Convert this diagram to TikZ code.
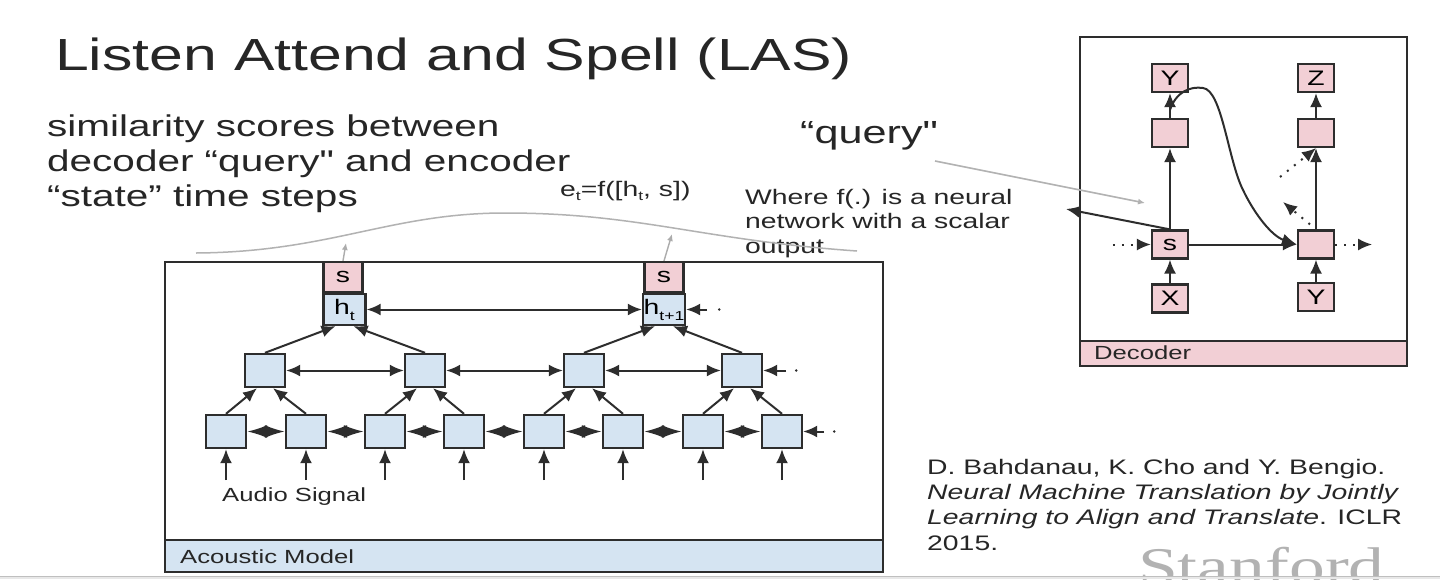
\documentclass[tikz,border=0pt]{standalone}
\usepackage{fontspec}
\setmainfont{Liberation Sans}[FakeStretch=1.35]
\newfontfamily\plain{Liberation Sans}[FakeStretch=1.35]
\newfontfamily\stanf{Liberation Serif}[FakeStretch=1.35]
\usetikzlibrary{arrows.meta,calc}
\definecolor{boxblue}{RGB}{213,228,242}
\definecolor{boxpink}{RGB}{242,207,213}
\definecolor{edge}{RGB}{45,45,45}
\newcommand\fs[1]{\fontsize{#1}{#1}\selectfont}
\newcommand\subA[1]{\raisebox{-6pt}{\fs{13}#1}}
\newcommand\subB[1]{\raisebox{-4pt}{\fs{13}#1}}
\newcommand\sq{{\plain"}}
\begin{document}
\begin{tikzpicture}[x=1pt,y=-1pt,
 bb/.style={draw=edge,line width=2.4pt,fill=boxblue,minimum width=40pt,minimum height=33pt,inner sep=0pt,font=\fs{21}},
 pb/.style={draw=edge,line width=2.2pt,fill=boxpink,minimum width=36pt,minimum height=28pt,inner sep=0pt,font=\fs{21}},
 ar/.style={line width=2pt,draw=edge,-{Latex[length=14pt,width=12pt]}},
 dar/.style={line width=2pt,draw=edge,{Latex[length=14pt,width=12pt]}-{Latex[length=14pt,width=12pt]}},
 dia/.style={line width=2pt,draw=edge,{Latex[length=20pt,width=13pt]}-{Latex[length=20pt,width=13pt]}},
 dots/.style={line width=2pt,draw=edge,dash pattern=on 2pt off 7pt,-{Latex[length=14pt,width=12pt]}},
 garr/.style={line width=1.4pt,draw=gray!65,-{Latex[length=7pt,width=6pt]}},
 txt/.style={anchor=base west,inner sep=0pt,text=black!85},
]
\useasboundingbox (0,0) rectangle (1440,579);
\fill[white] (0,0) rectangle (1440,579);

% ---------- texts ----------
\node[txt,font=\fs{45}] (title) at (55,70) {Listen Attend and Spell (LAS)};
\node[txt,font=\fs{30}] (sub1) at (47,136) {similarity scores between};
\node[txt,font=\fs{30}] (sub2) at (47,171) {decoder “query\sq{} and encoder};
\node[txt,font=\fs{30}] (sub3) at (47,206) {“state” time steps};
\node[txt,font=\fs{21}] (et) at (560,196) {e\subB{t}=f([h\subB{t}, s])};
\node[txt,font=\fs{32}] (q) at (800,143) {“query\sq};
\node[txt,font=\fs{21}] (w1) at (745,204) {Where f(.) is a neural};
\node[txt,font=\fs{21}] (w2) at (745,228.5) {network with a scalar};
\node[txt,font=\fs{21}] (w3) at (745,253) {output};
\node[txt,font=\fs{21}] (r1) at (927,474) {D. Bahdanau, K. Cho and Y. Bengio.};
\node[txt,font=\fs{21}] (r2) at (927,499.3) {\itshape Neural Machine Translation by Jointly};
\node[txt,font=\fs{21}] (r3) at (927,524.6) {{\itshape Learning to Align and Translate}. ICLR};
\node[txt,font=\fs{21}] (r4) at (927,550) {2015.};
\node[txt,font=\stanf\fs{53},text=gray!60] (stan) at (1138,584) {Stanford};

% ---------- attention curve ----------
\draw[gray!60,line width=1.5pt] (196,253) .. controls (330,252) and (390,213) .. (505,213)
  .. controls (640,213) and (700,240) .. (857,251);

% ---------- acoustic model ----------
\fill[boxblue] (165,540) rectangle (883,572);
\draw[edge,line width=2.2pt] (165,540) -- (883,540);
\draw[edge,line width=2.4pt] (165,262) rectangle (883,572);
\node[txt,font=\fs{19}] (am) at (180,563) {Acoustic Model};
\node[txt,font=\fs{19}] (audio) at (222,501) {Audio Signal};

\foreach \x [count=\i] in {226,306,385,464,544,623,703,782}
  \node[bb] (a\i) at (\x,431.5) {};
\foreach \x [count=\i] in {265,425,584,742}
  \node[bb] (b\i) at (\x,370.5) {};
\node[bb,minimum width=42pt,minimum height=31pt] (h1) at (344.5,309.5) {h\subA{t}};
\node[bb,minimum width=42pt,minimum height=31pt] (h2) at (664,309.5) {h\subA{t+1}};
\node[pb,minimum width=39pt,minimum height=30pt] (s1) at (343,277) {s};
\node[pb,minimum width=39pt,minimum height=30pt] (s2) at (664,277) {s};

\foreach \i [evaluate=\i as \j using int(\i+1)] in {1,...,7}
  \draw[dia] (a\i) -- (a\j);
\foreach \i [evaluate=\i as \j using int(\i+1)] in {1,2,3}
  \draw[dar] (b\i) -- (b\j);
\draw[dar] (h1) -- (h2);

\foreach \i in {1,...,8} {
  \coordinate (in\i) at ($(a\i.south)+(0,31)$);
  \draw[ar] (in\i) -- (a\i.south);
}
\foreach \i/\k in {1/1,3/2,5/3,7/4} {
  \draw[ar] (a\i.north) -- ($(b\k.south)+(-8,0)$);
}
\foreach \i/\k in {2/1,4/2,6/3,8/4} {
  \draw[ar] (a\i.north) -- ($(b\k.south)+(8,0)$);
}
\draw[ar] (b1.north) -- ($(h1.south)+(-9,0)$);
\draw[ar] (b2.north) -- ($(h1.south)+(9,0)$);
\draw[ar] (b3.north) -- ($(h2.south)+(-9,0)$);
\draw[ar] (b4.north) -- ($(h2.south)+(9,0)$);

\coordinate (ea) at ($(a8.east)+(21,0)$);
\fill[edge] ($(a8.east)+(31,0)$) circle (1.3);
\draw[ar] (ea) -- (a8.east);
\coordinate (eb) at ($(b4.east)+(23,0)$);
\fill[edge] ($(b4.east)+(33,0)$) circle (1.3);
\draw[ar] (eb) -- (b4.east);
\coordinate (eh) at ($(h2.east)+(21,0)$);
\fill[edge] ($(h2.east)+(33,0)$) circle (1.3);
\draw[ar] (eh) -- (h2.east);

\coordinate (g1) at (346,243);
\coordinate (g2) at (672,234);
\draw[garr] (s1.north) -- (g1);
\draw[garr] (s2.north) -- (g2);

% ---------- decoder ----------
\fill[boxpink] (1080,341) rectangle (1407,366);
\draw[edge,line width=2.2pt] (1080,341) -- (1407,341);
\draw[edge,line width=2.4pt] (1080,37) rectangle (1407,366);
\node[txt,font=\fs{19}] (dec) at (1094,359) {Decoder};

\node[pb] (Y1) at (1170,78) {Y};
\node[pb] (M1) at (1170,133) {};
\node[pb] (S) at (1170,244.5) {s};
\node[pb] (X) at (1170,298.5) {X};
\node[pb] (Z) at (1316,78) {Z};
\node[pb] (M2) at (1316,133) {};
\node[pb] (R) at (1316,244.5) {};
\node[pb] (Y2) at (1316,297) {Y};

\draw[ar] (X) -- (S);
\draw[ar] (S) -- (M1);
\draw[ar] (M1) -- (Y1);
\draw[ar] (Y2) -- (R);
\draw[ar] (R) -- (M2);
\draw[ar] (M2) -- (Z);
\draw[ar] (S) -- (R);

\coordinate (cs) at ($(M1.north)+(0,-8)$);
\draw[line width=2pt,draw=edge,-{Latex[length=15pt,width=12pt]}] (cs)
  .. controls (1176,92) and (1190,86) .. (1203,88)
  .. controls (1222,90) and (1228,160) .. (1243,190)
  .. controls (1255,215) and (1272,236) .. (R.west);

\coordinate (sl) at ($(S.west)+(-38,0)$);
\draw[dots] (sl) -- (S.west);
\coordinate (rr) at ($(R.east)+(37,0)$);
\draw[dots] (R.east) -- (rr);
\coordinate (d1) at (1280,177);
\draw[dots] (d1) -- (M2.south);
\coordinate (d2a) at ($(R.north)+(-6,-5)$);
\coordinate (d2b) at (1283,202);
\draw[dots] (d2a) -- (d2b);

\coordinate (out) at (1066,209);
\draw[ar] (S.north) -- (out);

\coordinate (qs) at (935,161);
\coordinate (qe) at (1145,203);
\draw[garr,draw=gray!60,line width=1.6pt] (qs) -- (qe);

% ---------- bottom edge ----------
\fill[gray!18] (0,576) rectangle (1440,579);
\draw[gray!50,line width=1pt] (0,576) -- (1440,576);
\end{tikzpicture}
\end{document}
